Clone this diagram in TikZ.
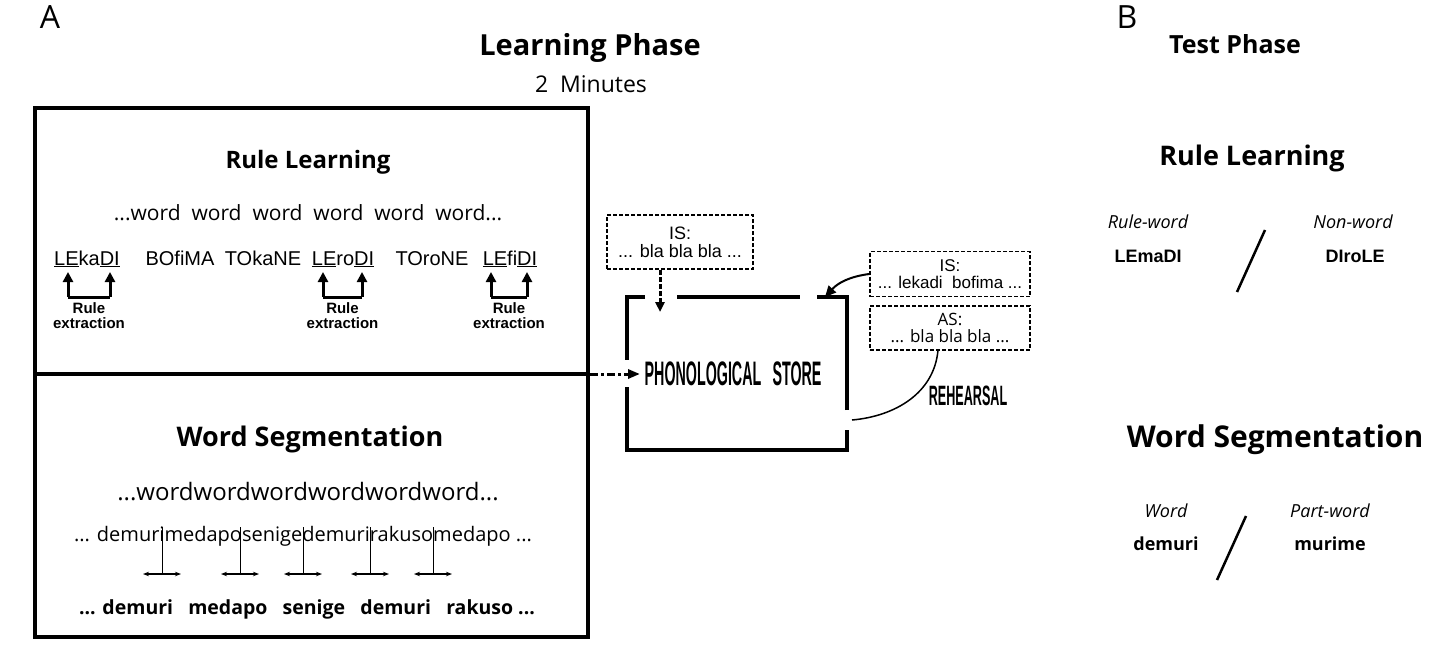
\documentclass[tikz,border=0pt]{standalone}
\usepackage{fontspec}
\setmainfont{Open Sans}
\newfontfamily\arial{Liberation Sans}
\usetikzlibrary{arrows.meta}
\newcommand{\fs}[1]{\fontsize{#1}{#1}\selectfont}
\newcommand{\cond}[2]{\scalebox{#1}[1]{\arial\bfseries #2}}
\begin{document}
\begin{tikzpicture}[x=1pt,y=-1pt,
  box/.style={line width=4pt},
  dbox/.style={draw,dashed,line width=1.6pt,dash pattern=on 4pt off 2pt},
  ua/.style={line width=3pt,-{Triangle[length=10pt,width=10pt]}},
  da/.style={line width=1.3pt,{Stealth[length=6pt]}-{Stealth[length=6pt]}},
  t/.style={inner sep=0pt,anchor=base}]
\useasboundingbox (0,0) rectangle (1434,645);
\node[t,font=\fs{32}] (A) at (50,28) {A};
\node[t,font=\fs{32}] (B) at (1127,28) {B};
\node[t,font=\fs{29}\bfseries] (lp) at (590,55) {Learning Phase};
\node[t,font=\fs{23}] (min) at (591,92) {2\ \ Minutes};
\draw[box] (35,108) rectangle (588,637);
\draw[box] (35,374) -- (588,374);
\node[t,font=\fs{24}\bfseries] (rl) at (308,168) {Rule Learning};
\node[t,font=\fs{21}] (ww) at (308,220) {...word\ \ word\ \ word\ \ word\ \ word\ \ word...};
\begin{scope}[font=\arial\fs{20}]
\node[t] (w1) at (87,265) {\underline{LE}ka\underline{DI}};
\node[t] (w2) at (180,265) {BOfiMA};
\node[t] (w3) at (263,265) {TOkaNE};
\node[t] (w4) at (343,265) {\underline{LE}ro\underline{DI}};
\node[t] (w5) at (432,265) {TOroNE};
\node[t] (w6) at (510,265) {\underline{LE}fi\underline{DI}};
\end{scope}
\foreach \a/\b/\n in {68/110/1,323/362/2,491/527/3}{
  \coordinate (l\n) at (\a,272); \coordinate (r\n) at (\b,272);
  \draw[ua] (\a,297) -- (l\n); \draw[ua] (\b,297) -- (r\n);
  \draw[line width=3pt] (\a,297) -- (\b,297);
  \node[font=\arial\bfseries\fs{15},align=center,inner sep=0pt,anchor=north] (x\n) at ({(\a+\b)/2},302) {Rule\\extraction};
}
\node[t,font=\fs{27}\bfseries] (ws) at (310,446) {Word Segmentation};
\node[t,font=\fs{24}] (wwc) at (308,500) {...wordwordwordwordwordword...};
\node[t,font=\fs{20}] (dm) at (303,541) {... demuri\kern0ptmedapo\kern0ptsenige\kern0ptdemuri\kern0ptrakuso\kern0ptmedapo ...};
\foreach \x/\n in {162/1,240/2,303/3,370/4,433/5}{
  \coordinate (s\n) at (\x,527); \coordinate (e\n) at (\x,574);
  \draw[line width=1pt] (s\n) -- (e\n);
  \draw[da] (\x-19,574) -- (\x+19,574);
}
\node[t,font=\fs{19.5}\bfseries] (bw) at (307,614) {... demuri\ \ \ medapo\ \ \ senige\ \ \ demuri\ \ \ rakuso ...};
% phonological store
\draw[box] (645,297) -- (627,297) -- (627,360);
\draw[box] (627,387) -- (627,450) -- (847,450) -- (847,430);
\draw[box] (847,410) -- (847,297) -- (817,297);
\draw[box] (677,297) -- (800,297);
\node[t] (ph) at (703,385) {\fs{34}\cond{0.42}{PHONOLOGICAL}};
\node[t] (st) at (797,385) {\fs{34}\cond{0.42}{STORE}};
\node[t] (reh) at (968,405) {\fs{28}\cond{0.45}{REHEARSAL}};
\coordinate (in) at (640,374);
\draw[line width=3pt,dash pattern=on 8pt off 3pt on 3pt off 3pt,-{Triangle[length=12pt,width=9pt]}] (590,374) -- (in);
\node[dbox,minimum width=146pt,minimum height=54pt,inner sep=0pt,font=\arial\fs{18},align=center] (is1) at (680,242) {IS:\\... bla bla bla ...};
\node[dbox,minimum width=160pt,minimum height=45pt,inner sep=0pt,font=\arial\fs{17},align=center] (is2) at (950,274) {IS:\\... lekadi\ \ bofima ...};
\node[dbox,minimum width=160pt,minimum height=44pt,inner sep=0pt,font=\fs{17},align=center] (as) at (950,328) {AS:\\... bla bla bla ...};
\coordinate (t1) at (660,312);
\draw[line width=3pt,dash pattern=on 5pt off 2pt,-{Triangle[length=10pt,width=9pt]}] (660,270) -- (t1);
\coordinate (t2) at (825,297);
\draw[line width=2pt,-{Triangle[length=11pt,width=10pt]}] (is2.west) to[bend right=20] (t2);
\coordinate (t3) at (852,420);
\draw[line width=1.5pt] (938,350) to[out=-95,in=5] (t3);
% B
\node[t,font=\fs{25}\bfseries] (tp) at (1235,53) {Test Phase};
\node[t,font=\fs{27}\bfseries] (rl2) at (1252,165) {Rule Learning};
\node[t,font=\fs{18}\itshape] (rw) at (1148,228) {Rule-word};
\node[t,font=\fs{18}\bfseries\arial] (lm) at (1148,262) {LEmaDI};
\node[t,font=\fs{18}\itshape] (nw) at (1353,228) {Non-word};
\node[t,font=\fs{18}\bfseries\arial] (dr) at (1355,262) {DIroLE};
\draw[line width=2.5pt] (1237,292) -- (1265,230);
\node[t,font=\fs{30}\bfseries] (ws2) at (1275,447) {Word Segmentation};
\node[t,font=\fs{18}\itshape] (wd) at (1166,517) {Word};
\node[t,font=\fs{18}\bfseries] (de) at (1166,550) {demuri};
\node[t,font=\fs{18}\itshape] (pw) at (1330,517) {Part-word};
\node[t,font=\fs{18}\bfseries] (mu) at (1330,550) {murime};
\draw[line width=2.5pt] (1217,580) -- (1246,516);
\end{tikzpicture}
\end{document}
